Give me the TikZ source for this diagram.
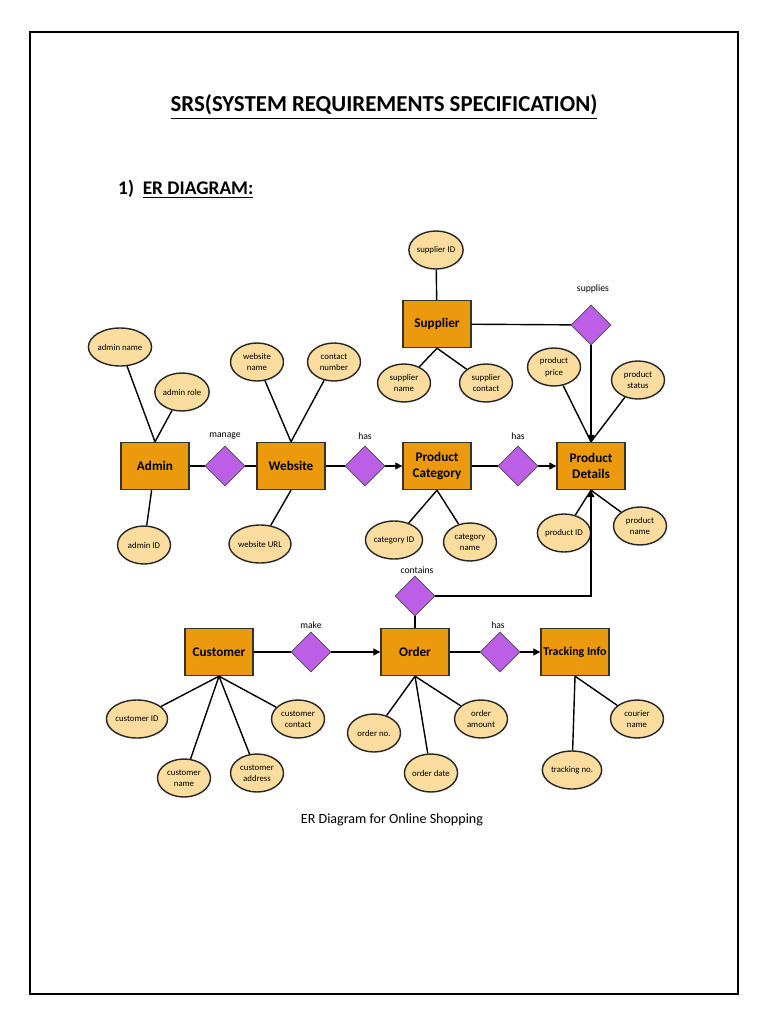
\documentclass[tikz,border=0pt]{standalone}
\usepackage{fontspec}
\setmainfont{Carlito}
\usetikzlibrary{shapes.geometric,positioning,arrows.meta}
\definecolor{entfill}{HTML}{EA9A0C}
\definecolor{attfill}{HTML}{F9DC9E}
\definecolor{relfill}{HTML}{BD5FE6}
\begin{document}
\begin{tikzpicture}[x=0.02cm,y=-0.02cm]
\tikzstyle{ent}=[draw=black!80,line width=0.8pt,fill=entfill,minimum width=1.36cm,minimum height=0.94cm,inner sep=0pt,align=center,font=\bfseries\fontsize{7.5}{9}\selectfont]
\tikzstyle{att}=[ellipse,draw=black!85,line width=0.8pt,fill=attfill,minimum width=1.06cm,minimum height=0.76cm,inner sep=0pt,align=center,font=\fontsize{5}{6.5}\selectfont]
\tikzstyle{rel}=[diamond,draw=black!70,fill=relfill,minimum width=0.8cm,minimum height=0.8cm,inner sep=0pt]
\tikzstyle{lbl}=[font=\fontsize{5.5}{6}\selectfont]
\tikzstyle{link}=[line width=0.8pt]
\tikzstyle{to}=[line width=0.8pt,-{Triangle[length=4pt,width=4pt]}]
\useasboundingbox (0,0) rectangle (768,1024);
\draw [line width=0.6pt] (30,32) rectangle (738,994);
\node [font=\bfseries\fontsize{13}{15}\selectfont] (title) at (384,107) {\underline{SRS(SYSTEM REQUIREMENTS SPECIFICATION)}};
\node [font=\bfseries\fontsize{11}{13}\selectfont,anchor=west] (sec) at (112,189) {1)\hspace{5pt}\underline{ER DIAGRAM:}};
\node [ent] (admin) at (155,466) {Admin};
\node [ent] (web) at (291,466) {Website};
\node [ent] (pcat) at (437,466) {Product\\Category};
\node [ent] (pdet) at (591,466) {Product\\Details};
\node [ent] (sup) at (437,324) {Supplier};
\node [ent] (cust) at (219,652) {Customer};
\node [ent] (ord) at (415,652) {Order};
\node [ent,font=\bfseries\fontsize{6.8}{8}\selectfont] (track) at (575,652) {Tracking Info};
\node [rel] (manage) at (225,466) {};
\node [rel] (has1) at (365,466) {};
\node [rel] (has2) at (518,466) {};
\node [rel] (supplies) at (591,325) {};
\node [rel] (contains) at (415,596) {};
\node [rel] (make) at (311,652) {};
\node [rel] (has3) at (500,652) {};
\node [lbl] at (225,436) {manage};
\node [lbl] at (365,436) {has};
\node [lbl] at (518,436) {has};
\node [lbl] at (593,289) {supplies};
\node [lbl] at (417,570) {contains};
\node [lbl] at (311,625) {make};
\node [lbl] at (498,625) {has};
\node [att] (supid) at (436,250) {supplier ID};
\node [att] (supname) at (404,383) {supplier\\name};
\node [att] (supcon) at (486,383) {supplier\\contact};
\node [att] (admname) at (120,347) {admin name};
\node [att] (admrole) at (182,392) {admin role};
\node [att] (admid) at (144,545) {admin ID};
\node [att] (webname) at (257,362) {website\\name};
\node [att] (webcon) at (334,362) {contact\\number};
\node [att] (weburl) at (260,544) {website URL};
\node [att] (pprice) at (554,367) {product\\price};
\node [att] (pstatus) at (638,380) {product\\status};
\node [att] (pid) at (564,533) {product ID};
\node [att] (pname) at (640,526) {product\\name};
\node [att] (catid) at (394,540) {category ID};
\node [att] (catname) at (470,542) {category\\name};
\node [att] (custid) at (137,719) {customer ID};
\node [att] (custname) at (184,778) {customer\\name};
\node [att] (custaddr) at (257,773) {customer\\address};
\node [att] (custcon) at (298,719) {customer\\contact};
\node [att] (ordno) at (374,733) {order no.};
\node [att] (orddate) at (431,773) {order date};
\node [att] (ordamt) at (481,719) {order\\amount};
\node [att] (trackno) at (572,770) {tracking no.};
\node [att] (courier) at (637,719) {courier\\name};
\node [font=\fontsize{8}{9}\selectfont] (cap) at (392,820) {ER Diagram for Online Shopping};
\draw [link] (admin) -- (manage) -- (web);
\draw [link] (web) -- (has1);
\draw [to] (has1) -- (pcat);
\draw [link] (pcat) -- (has2);
\draw [to] (has2) -- (pdet);
\draw [link] (sup) -- (supplies);
\draw [to] (supplies) -- (pdet);
\draw [link] (ord) -- (contains);
\draw [to] (contains.east) -| (pdet.south);
\draw [link] (cust) -- (make);
\draw [to] (make) -- (ord);
\draw [link] (ord) -- (has3);
\draw [to] (has3) -- (track);
\draw [link] (sup) -- (supid);
\draw [link] (sup.south) -- (supname) (sup.south) -- (supcon);
\draw [link] (admin.north) -- (admname) (admin.north) -- (admrole);
\draw [link] (admin) -- (admid);
\draw [link] (web.north) -- (webname) (web.north) -- (webcon);
\draw [link] (web.south) -- (weburl);
\draw [link] (pdet.north) -- (pprice) (pdet.north) -- (pstatus);
\draw [link] (pdet.south) -- (pid) (pdet.south) -- (pname);
\draw [link] (pcat.south) -- (catid) (pcat.south) -- (catname);
\foreach \a in {custid,custname,custaddr,custcon} \draw [link] (cust.south) -- (\a);
\foreach \a in {ordno,orddate,ordamt} \draw [link] (ord.south) -- (\a);
\foreach \a in {trackno,courier} \draw [link] (track.south) -- (\a);
\end{tikzpicture}
\end{document}
